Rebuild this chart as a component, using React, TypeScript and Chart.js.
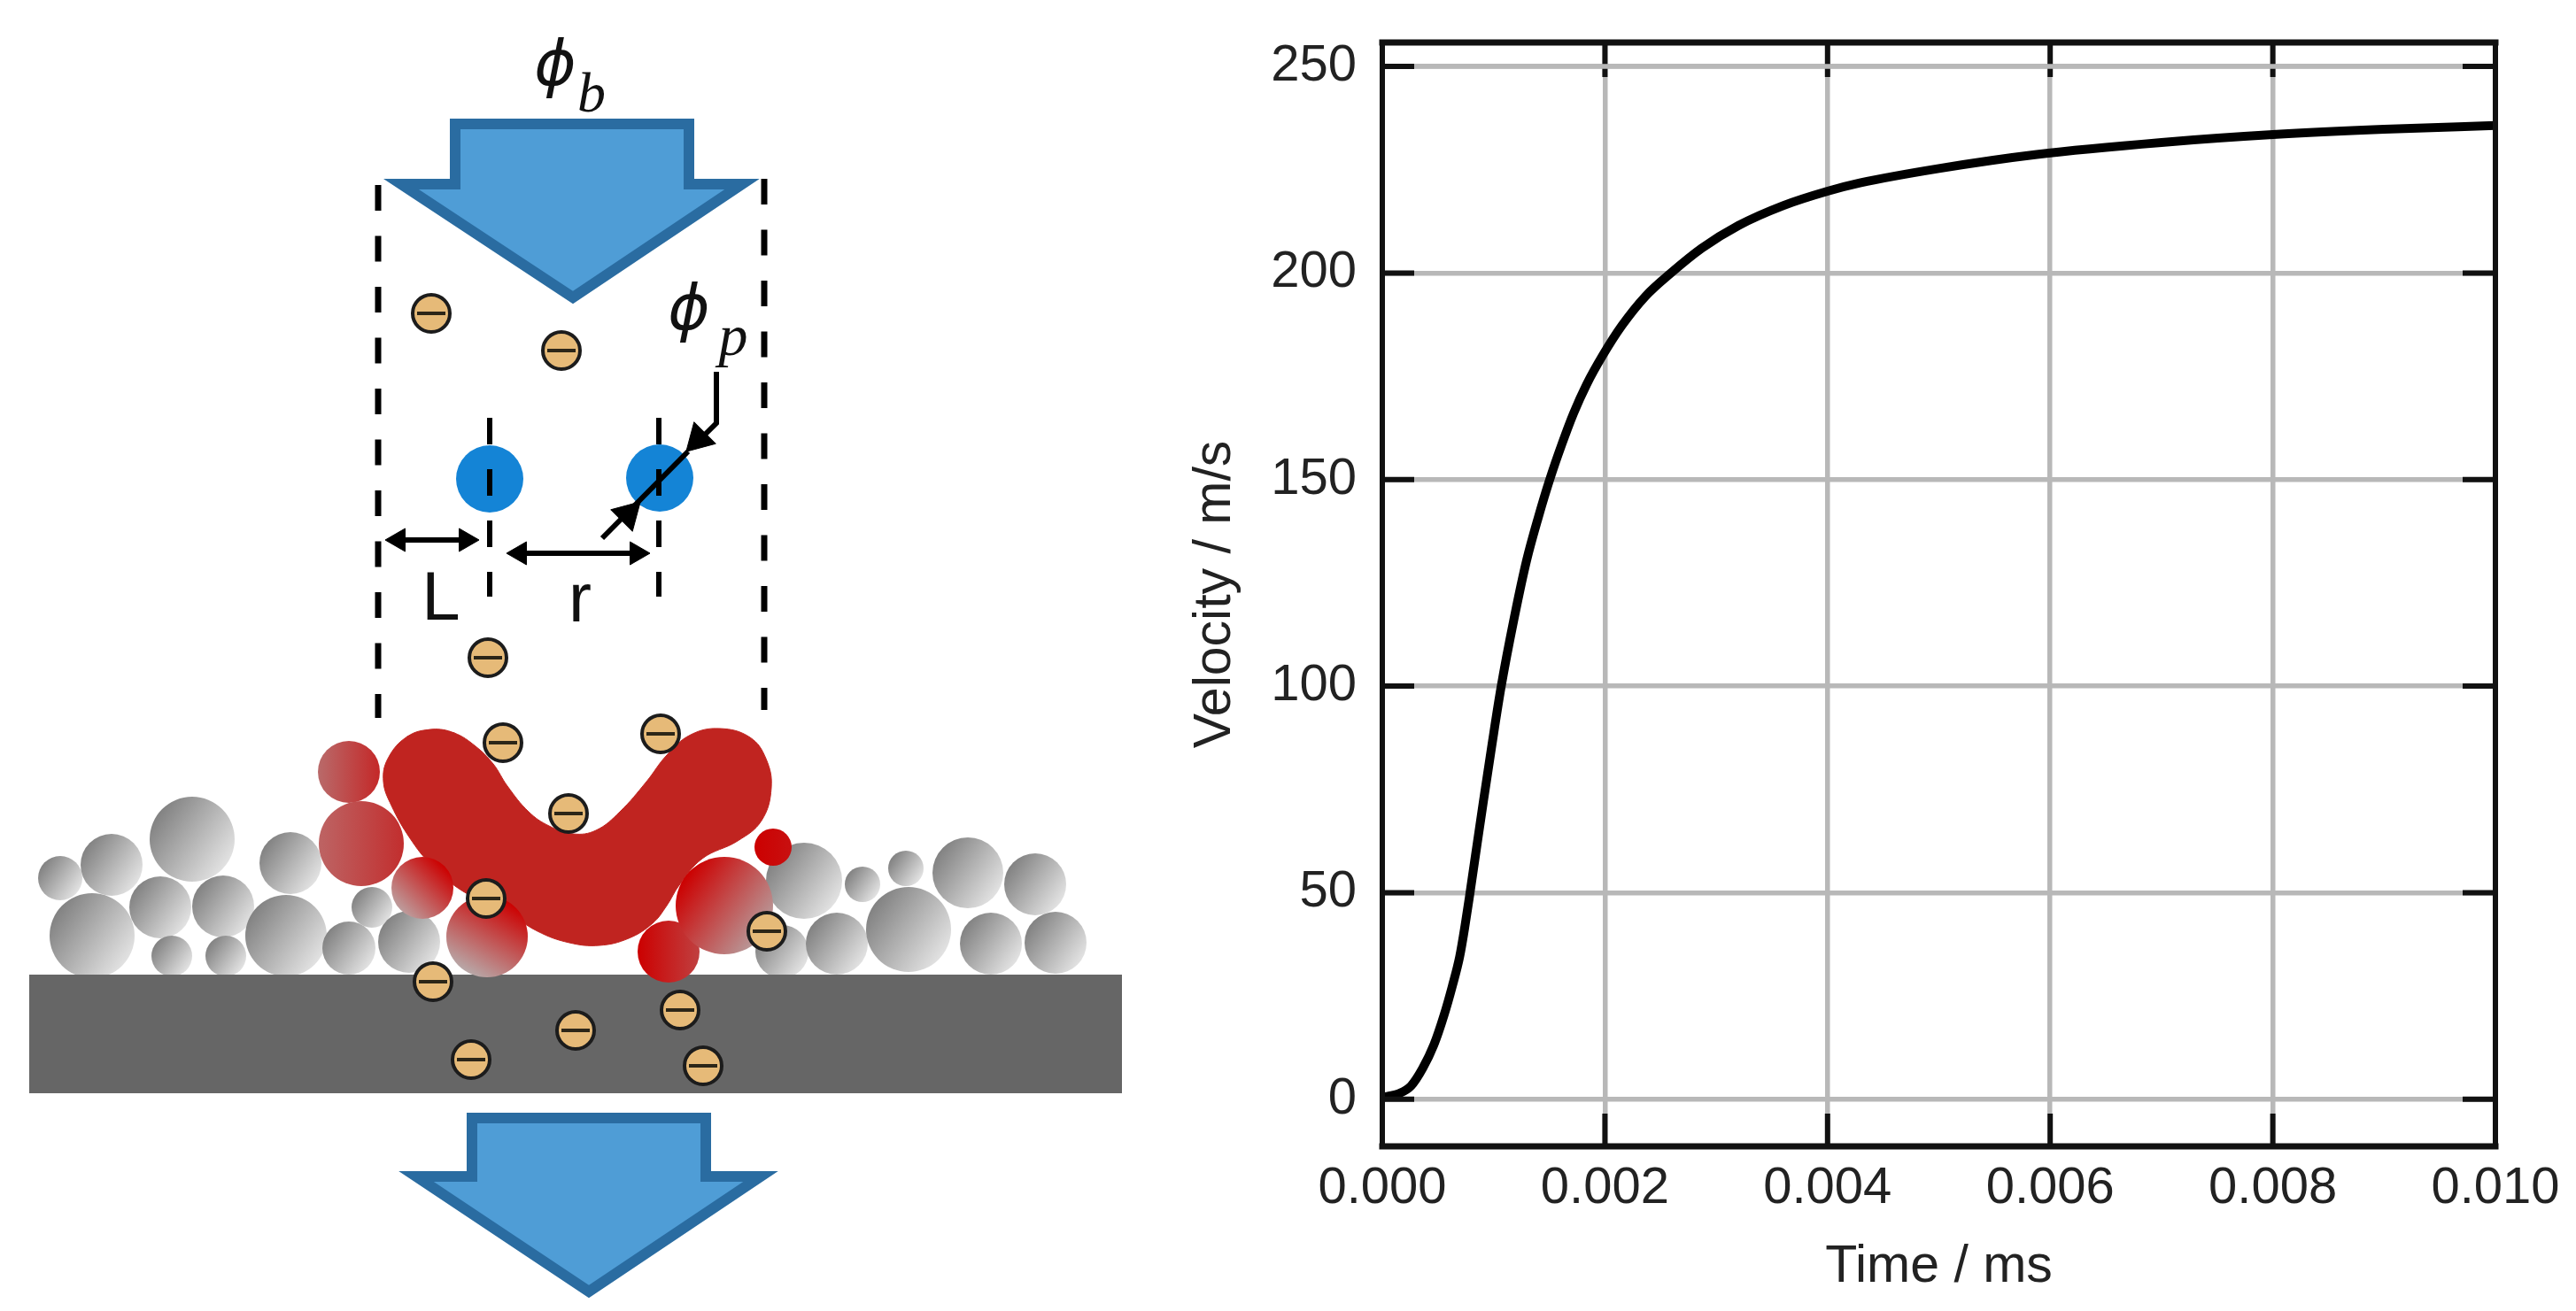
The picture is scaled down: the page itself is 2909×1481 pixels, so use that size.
import React, { useEffect, useRef } from "react";
import { Chart, registerables } from "chart.js";

Chart.register(...registerables);

// ---- velocity plot data ----
const timeMs = [0, 0.000045, 0.000151, 0.000257, 0.000363, 0.000464, 0.000554, 0.000629, 0.000695, 0.000743, 0.000788, 0.000841, 0.000907, 0.000986, 0.001066, 0.001185, 0.001297, 0.001403, 0.001504, 0.001615, 0.001716, 0.001835, 0.001981, 0.002153, 0.002365, 0.002593, 0.00287, 0.0032, 0.0036, 0.004, 0.00429, 0.005, 0.00588, 0.007, 0.008, 0.009, 0.01];
const velocity = [0.4, 0.7, 1.4, 3.2, 7.5, 13.2, 20.3, 27.4, 34.5, 42, 50, 59.8, 71.9, 86, 99.6, 116.5, 130.5, 141, 150, 158.7, 165.9, 173, 180.1, 187.3, 194.4, 200, 206, 211.5, 216.3, 219.8, 221.8, 225.3, 228.7, 231.6, 233.5, 234.8, 235.7];
const xTicks = [0, 0.002, 0.004, 0.006, 0.008, 0.01];
const yTicks = [0, 50, 100, 150, 200, 250];
const xTitle = "Time / ms";
const yTitle = "Velocity / m/s";

// ---- schematic data (x, y, r in the schematic's own scale) ----
const greyX = [104, 68, 126, 217, 181, 252, 328, 323, 194, 255, 394, 420, 462, 908, 883, 945, 974, 1023, 1026, 1093, 1169, 1119, 1192];
const greyY = [1057, 992, 977, 948, 1025, 1024, 975, 1057, 1080, 1080, 1071, 1025, 1064, 995, 1075, 1066, 999, 981, 1050, 986, 999, 1066, 1065];
const greyR = [48, 25, 35, 48, 35, 35, 35, 46, 23, 23, 30, 23, 35, 43, 30, 35, 20, 20, 48, 40, 35, 35, 35];

const redX = [394, 408, 477, 550, 755, 818, 873];
const redY = [872, 953, 1003, 1058, 1075, 1023, 957];
const redR = [35, 48, 35, 46, 35, 55, 21];
const redFrom = ["#b96a6a", "#bd6464", "#bd9c9c", "#b8a8a8", "#cc0000", "#cc0000", "#cc0000"];
const redTo = ["#c42828", "#c22e2e", "#cc0000", "#cc0000", "#c04040", "#b89c9c", "#c81010"];
const redAngle = [0, 0, -45, -60, 0, 35, 0];

const blobX = [513, 488, 460, 438, 433, 442, 463, 487, 523, 567, 607, 643, 677, 710, 737, 753, 767, 793, 833, 860, 871, 865, 847, 813, 780, 753, 730, 700, 673, 647, 620, 597, 573, 557, 537, 513, 488, 460];
const blobY = [828, 824, 832, 857, 883, 910, 947, 977, 1007, 1027, 1052, 1065, 1068, 1060, 1043, 1023, 1000, 970, 950, 927, 890, 857, 833, 823, 830, 853, 883, 917, 938, 942, 933, 917, 888, 863, 843, 828, 824, 832];

const electronX = [487, 634, 551, 568, 746, 642, 549, 866, 489, 768, 650, 532, 794];
const electronY = [354, 396, 743, 839, 829, 919, 1015, 1052, 1109, 1141, 1164, 1197, 1204];

const beamX = [553, 745];
const beamY = [541, 540];

const topArrowX = [514, 778, 778, 838, 647, 453, 514, 514];
const topArrowY = [140, 140, 208, 208, 336, 208, 208, 140];
const bottomArrowX = [533, 797, 797, 859, 665, 470, 533, 533];
const bottomArrowY = [1263, 1263, 1329, 1329, 1459, 1329, 1329, 1263];
const substrateX = [33, 1267, 1267, 33, 33];
const substrateY = [1101, 1101, 1235, 1235, 1101];

const guideLines = [
  { x: [427, 427], y: [209, 811], w: 7, dash: [29, 28.5] },
  { x: [863, 863], y: [202, 802], w: 7, dash: [29, 28.5] },
  { x: [553, 553], y: [472, 674], w: 6, dash: [30, 28] },
  { x: [744, 744], y: [472, 674], w: 6, dash: [30, 28] },
];
const solidLines = [
  { x: [680, 777], y: [608, 510] },
  { x: [809, 809, 790], y: [420, 478, 497] },
  { x: [445, 531], y: [610, 610] },
  { x: [582, 724], y: [625, 625] },
];
const headX = [709, 789, 450, 526, 587, 719];
const headY = [581, 496, 610, 610, 625, 625];
const headR = [20, 20, 15, 15, 15, 15];
const headAngle = [45, 225, 270, 90, 270, 90];

const schematicText = [
  { t: "ϕ", x: 627, y: 96, font: 'italic 200 72px "DejaVu Sans"' },
  { t: "b", x: 668, y: 126, font: 'italic 64px "Liberation Serif"' },
  { t: "ϕ", x: 778, y: 372, font: 'italic 200 72px "DejaVu Sans"' },
  { t: "p", x: 828, y: 401, font: 'italic 66px "Liberation Serif"' },
  { t: "L", x: 498, y: 700, font: '78px "Liberation Sans"' },
  { t: "r", x: 655, y: 702, font: '78px "Liberation Sans"' },
];

// Largest marker radius: Chart.js insets the plot area by this much, so the canvas is enlarged to compensate.
const overflow = 55;

const zip = (xs: number[], ys: number[]) => xs.map((x, i) => ({ x, y: ys[i] }));

function gradientFor(c: any, x: number, y: number, r: number, from: string, to: string, deg: number) {
  const sx = c.chart.scales.x.getPixelForValue(x);
  const sy = c.chart.scales.y.getPixelForValue(y);
  if (!Number.isFinite(sx) || !Number.isFinite(sy) || !Number.isFinite(r)) return from;
  const a = (deg * Math.PI) / 180;
  const g = c.chart.ctx.createLinearGradient(sx - Math.cos(a) * r, sy - Math.sin(a) * r, sx + Math.cos(a) * r, sy + Math.sin(a) * r);
  g.addColorStop(0, from);
  g.addColorStop(1, to);
  return g;
}

const polygon = (xs: number[], ys: number[], fill: string, stroke: string, w: number, tension = 0) => ({
  data: zip(xs, ys),
  showLine: true,
  fill: "shape",
  backgroundColor: fill,
  borderColor: stroke,
  borderWidth: w,
  borderJoinStyle: "miter",
  borderCapStyle: "square",
  // a solid "dash" keeps every vertex (the fast line path merges points on one pixel column)
  borderDash: [100000, 1],
  pointRadius: 0,
  tension,
});

const schematicTextPlugin = {
  id: "schematicText",
  afterDatasetsDraw(chart: any) {
    const { ctx, scales } = chart;
    ctx.save();
    ctx.fillStyle = "#111";
    ctx.textAlign = "center";
    ctx.textBaseline = "alphabetic";
    for (const l of schematicText) {
      ctx.font = l.font;
      ctx.fillText(l.t, scales.x.getPixelForValue(l.x), scales.y.getPixelForValue(l.y));
    }
    ctx.restore();
  },
};

const framePlugin = {
  id: "frame",
  afterDatasetsDraw(chart: any) {
    const { ctx, chartArea: a, scales } = chart;
    ctx.save();
    ctx.strokeStyle = "#111";
    ctx.lineWidth = 6;
    // top ticks, then the topmost grid line passes over them
    for (const v of xTicks) {
      const x = scales.x.getPixelForValue(v);
      ctx.beginPath();
      ctx.moveTo(x, a.top);
      ctx.lineTo(x, a.top + 39);
      ctx.stroke();
    }
    const yTop = scales.y.getPixelForValue(yTicks[yTicks.length - 1]);
    ctx.strokeStyle = "#b8b8b8";
    ctx.lineWidth = 5.5;
    ctx.beginPath();
    ctx.moveTo(a.left, yTop);
    ctx.lineTo(a.right, yTop);
    ctx.stroke();
    ctx.strokeStyle = "#111";
    // bottom ticks
    ctx.lineWidth = 6;
    for (const v of xTicks) {
      const x = scales.x.getPixelForValue(v);
      ctx.beginPath();
      ctx.moveTo(x, a.bottom);
      ctx.lineTo(x, a.bottom - 37);
      ctx.stroke();
    }
    // left and right ticks
    ctx.lineWidth = 6;
    for (const v of yTicks) {
      const y = scales.y.getPixelForValue(v);
      ctx.beginPath();
      ctx.moveTo(a.left, y);
      ctx.lineTo(a.left + 36, y);
      ctx.moveTo(a.right, y);
      ctx.lineTo(a.right - 37, y);
      ctx.stroke();
    }
    // frame
    ctx.lineCap = "square";
    ctx.lineWidth = 7;
    ctx.beginPath();
    ctx.moveTo(a.left, a.top);
    ctx.lineTo(a.right, a.top);
    ctx.moveTo(a.left, a.bottom);
    ctx.lineTo(a.right, a.bottom);
    ctx.stroke();
    ctx.lineWidth = 6;
    ctx.beginPath();
    ctx.moveTo(a.left, a.top);
    ctx.lineTo(a.left, a.bottom);
    ctx.moveTo(a.right, a.top);
    ctx.lineTo(a.right, a.bottom);
    ctx.stroke();
    ctx.restore();
  },
};

const clearPadding = (s: any) => {
  s.paddingTop = 0;
  s.paddingBottom = 0;
  s.paddingLeft = 0;
  s.paddingRight = 0;
};

export default function App() {
  const leftRef = useRef<HTMLCanvasElement | null>(null);
  const rightRef = useRef<HTMLCanvasElement | null>(null);

  useEffect(() => {
    const paintOrder: any[] = [
      ...guideLines.map((g) => ({
        data: zip(g.x, g.y),
        showLine: true,
        borderColor: "#000",
        borderWidth: g.w,
        borderDash: g.dash,
        pointRadius: 0,
      })),
      polygon(topArrowX, topArrowY, "#4f9dd6", "#2a6ca1", 12),
      polygon(bottomArrowX, bottomArrowY, "#4f9dd6", "#2a6ca1", 12),
      {
        data: zip(greyX, greyY),
        pointRadius: greyR,
        borderWidth: 0,
        backgroundColor: (c: any) =>
          gradientFor(c, greyX[c.dataIndex], greyY[c.dataIndex], greyR[c.dataIndex], "#828282", "#e2e2e2", 35),
      },
      polygon(substrateX, substrateY, "#666666", "#666666", 0),
      polygon(blobX, blobY, "#c02420", "#c02420", 1, 0.4),
      {
        data: zip(redX, redY),
        pointRadius: redR,
        borderWidth: 0,
        backgroundColor: (c: any) => {
          const i = c.dataIndex;
          if (i === undefined) return "#c02420";
          return gradientFor(c, redX[i], redY[i], redR[i], redFrom[i], redTo[i], redAngle[i]);
        },
      },
      { data: zip(beamX, beamY), pointRadius: 38, borderWidth: 0, backgroundColor: "#1484d6" },
      // the guides run over the beam circles too
      ...guideLines.slice(2).map((g) => ({
        data: zip(g.x, g.y),
        showLine: true,
        borderColor: "#000",
        borderWidth: g.w,
        borderDash: g.dash,
        pointRadius: 0,
      })),
      ...solidLines.map((l) => ({
        data: zip(l.x, l.y),
        showLine: true,
        borderColor: "#000",
        borderWidth: 6,
        pointRadius: 0,
        tension: 0.001,
      })),
      {
        data: zip(headX, headY),
        pointStyle: "triangle",
        pointRadius: headR,
        pointRotation: headAngle,
        backgroundColor: "#000",
        borderColor: "#000",
        borderWidth: 1,
      },
      {
        data: zip(electronX, electronY),
        pointRadius: 21,
        backgroundColor: "#e6ba78",
        borderColor: "#1c1c1c",
        borderWidth: 4,
      },
      {
        data: zip(electronX, electronY),
        pointStyle: "line",
        pointRadius: 16,
        borderColor: "#2c2618",
        borderWidth: 4,
      },
    ];
    paintOrder.forEach((d, i) => {
      d.order = paintOrder.length - i;
    });

    const schematic = new Chart(leftRef.current as any, {
      type: "scatter",
      data: { datasets: paintOrder },
      plugins: [schematicTextPlugin],
      options: {
        animation: false,
        responsive: false,
        devicePixelRatio: 1,
        events: [],
        layout: { padding: 0 },
        plugins: { legend: { display: false }, tooltip: { enabled: false }, title: { display: false } },
        scales: {
          x: { type: "linear", display: false, min: 0, max: 1300 },
          y: { type: "linear", display: false, min: 0, max: 1481, reverse: true },
        },
      },
    } as any);

    const tickFont = { family: '"Liberation Sans"', size: 58 };
    const titleFont = { family: '"Liberation Sans"', size: 59 };
    const plot = new Chart(rightRef.current as any, {
      type: "line",
      data: {
        datasets: [
          {
            data: zip(timeMs, velocity),
            borderColor: "#000",
            borderWidth: 10,
            pointRadius: 0,
            cubicInterpolationMode: "monotone",
            fill: false,
          },
        ],
      },
      plugins: [framePlugin],
      options: {
        animation: false,
        responsive: false,
        devicePixelRatio: 1,
        events: [],
        layout: { padding: { top: 48, right: 91, left: 0, bottom: 0 } },
        plugins: { legend: { display: false }, tooltip: { enabled: false }, title: { display: false } },
        scales: {
          x: {
            type: "linear",
            min: 0,
            max: 0.01,
            afterFit: (s: any) => {
              s.height = 186;
              clearPadding(s);
            },
            afterBuildTicks: (s: any) => {
              s.ticks = xTicks.map((value) => ({ value }));
            },
            border: { display: false },
            grid: { color: "#b8b8b8", lineWidth: 5.5, drawTicks: false },
            ticks: {
              font: tickFont,
              color: "#222",
              padding: 13,
              maxRotation: 0,
              autoSkip: false,
              callback: (v: any) => Number(v).toFixed(3),
            },
            title: { display: true, text: xTitle, color: "#222", font: titleFont, padding: { top: 0, bottom: 14 } },
          },
          y: {
            type: "linear",
            min: -11.4,
            max: 255.8,
            afterFit: (s: any) => {
              s.width = 261;
              clearPadding(s);
            },
            afterBuildTicks: (s: any) => {
              s.ticks = yTicks.map((value) => ({ value }));
            },
            border: { display: false },
            grid: { color: "#b8b8b8", lineWidth: 5.5, drawTicks: false },
            ticks: {
              font: tickFont,
              color: "#222",
              padding: 29,
              autoSkip: false,
              callback: (v: any) => String(v),
            },
            title: { display: true, text: yTitle, color: "#222", font: titleFont, padding: { top: 37, bottom: 0 } },
          },
        },
      },
    } as any);

    return () => {
      schematic.destroy();
      plot.destroy();
    };
  }, []);

  return (
    <div style={{ position: "absolute", left: 0, top: 0, width: 2909, height: 1481, overflow: "hidden", background: "#fff" }}>
      <canvas
        ref={leftRef}
        width={1300 + 2 * overflow}
        height={1481 + 2 * overflow}
        style={{ position: "absolute", left: -overflow, top: -overflow, display: "block" }}
      />
      <canvas ref={rightRef} width={1609} height={1481} style={{ position: "absolute", left: 1300, top: 0, display: "block" }} />
    </div>
  );
}
